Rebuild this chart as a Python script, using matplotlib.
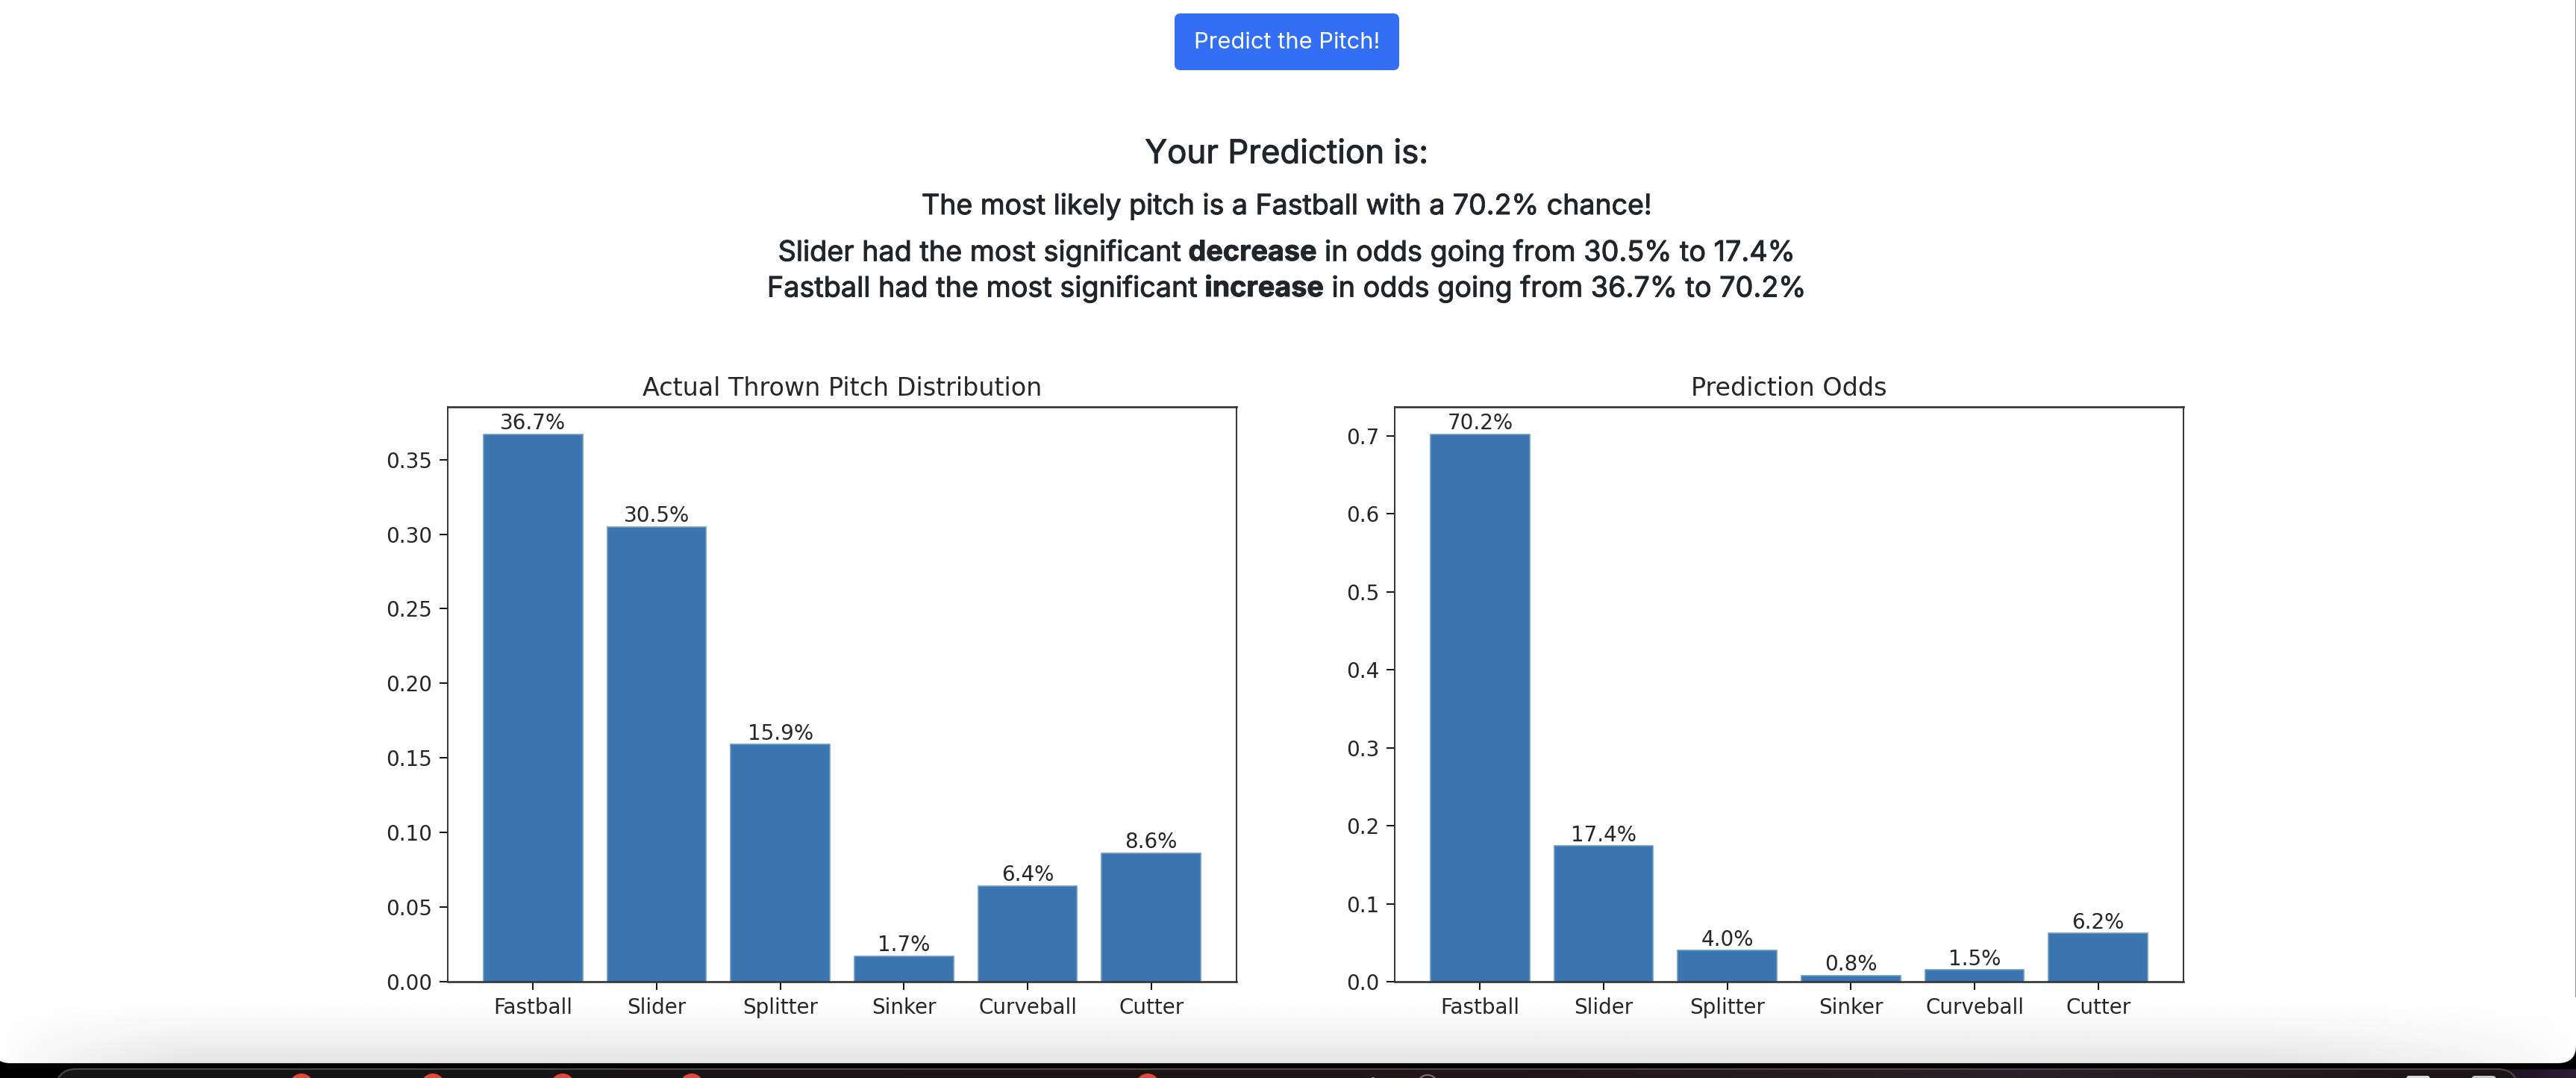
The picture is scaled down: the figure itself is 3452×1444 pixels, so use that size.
import numpy as np
import matplotlib
matplotlib.use("Agg")
import matplotlib.pyplot as plt
import matplotlib.patheffects as pe
from matplotlib.colors import LinearSegmentedColormap
from matplotlib.patches import FancyBboxPatch, Circle

W, H = 3452, 1444

pitches = ["Fastball", "Slider", "Splitter", "Sinker", "Curveball", "Cutter"]
actual = [0.367, 0.305, 0.159, 0.017, 0.064, 0.086]
odds = [0.702, 0.174, 0.040, 0.008, 0.015, 0.062]

button_label = "Predict the Pitch!"
heading = "Your Prediction is:"
summary = "The most likely pitch is a Fastball with a 70.2% chance!"
decrease_line = ["Slider had the most significant ", "decrease", " in odds going from 30.5% to 17.4%"]
increase_line = ["Fastball had the most significant ", "increase", " in odds going from 36.7% to 70.2%"]

bar_color = "#3b75af"
bar_edge = "#6d99c7"
text_color = "#212529"
chart_text = "#262626"

fig = plt.figure(figsize=(W / 100, H / 100), dpi=100, facecolor="black")

# page background in pixel coordinates
bg = fig.add_axes([0, 0, 1, 1])
bg.axis("off")

# wallpaper goes purple towards the right hand corner
wall = LinearSegmentedColormap.from_list("wall", ["#000000", "#000000", "#150a16", "#2e1b35"])
bg.imshow(np.linspace(0, 1, 256).reshape(1, -1), extent=(3000, W, 1444, 1424), cmap=wall,
          aspect="auto", zorder=0)
bg.fill_between([0, W], 1424, 1431, color="black", zorder=0.5)

# dock at the bottom
dock = FancyBboxPatch((74, 1432), 3300, 60, boxstyle="round,pad=0,rounding_size=28",
                      fc="none", ec="#4a4545", lw=1.6, zorder=2)
bg.add_patch(dock)
dock_cmap = LinearSegmentedColormap.from_list("dock", ["#161616", "#171515", "#1e1415", "#221618", "#2a2028", "#1a1516"])
im = bg.imshow(np.linspace(0, 1, 256).reshape(1, -1), extent=(74, 3374, 1444, 1432), cmap=dock_cmap,
               aspect="auto", zorder=1)
im.set_clip_path(dock)
for x in [404, 580, 754, 927, 1538]:
    bg.add_patch(Circle((x, 1454), 16, fc="#e0483a", ec="none", zorder=3))
# bits of the other dock icons that stick out
bg.add_patch(FancyBboxPatch((3225, 1441), 31, 12, boxstyle="round,pad=0,rounding_size=3",
                            fc="#dcdcdc", ec="none", zorder=3))
bg.add_patch(FancyBboxPatch((3312, 1441), 33, 12, boxstyle="round,pad=0,rounding_size=5",
                            fc="#c8c8c8", ec="none", zorder=3))
bg.add_patch(Circle((1913, 1454), 14, fc="#1e1415", ec="#77757a", lw=1.5, zorder=3))
bg.add_patch(Circle((1840, 1446), 3, fc="#a8c8e0", ec="none", zorder=3))

# browser window with the grey shadow at its bottom, fading out at the corners
window = FancyBboxPatch((-10, -40), W + 10, 1464, boxstyle="round,pad=0,rounding_size=24",
                        fc="white", ec="#4a4a4a", lw=0.8, zorder=4)
bg.add_patch(window)
xs = np.linspace(0, W, 600)
ys = np.linspace(0, 1, 100)
fade_x = np.clip(np.minimum(xs / 260, (W - xs) / 420), 0, 1) ** 0.7
shade = 1 - 0.105 * np.outer(ys ** 1.3, fade_x)
im = bg.imshow(shade, extent=(0, W, 1424, 1336), cmap="gray", vmin=0, vmax=1,
               aspect="auto", interpolation="bilinear", zorder=5)
im.set_clip_path(window)
bg.set_xlim(0, W)
bg.set_ylim(H, 0)

# button
bg.add_patch(FancyBboxPatch((1574, 18), 301, 76, boxstyle="round,pad=0,rounding_size=8",
                            fc="#326ff5", ec="none", zorder=6))
bg.text(1725, 57, button_label, color="white", fontsize=22.2, family="Inter",
        ha="center", va="center", zorder=7)

# headline text, slightly thickened since Inter regular is lighter than the original
thick = [pe.withStroke(linewidth=0.7, foreground=text_color)]
bg.text(1724, 207, heading, color=text_color, fontsize=31.6, family="Inter",
        ha="center", va="center", zorder=7, path_effects=thick)
bg.text(1724, 277, summary, color=text_color, fontsize=27, family="Inter",
        ha="center", va="center", zorder=7, path_effects=thick)


def mixed_line(parts, y, size=27.2):
    # middle part is bold, so lay the three pieces out by measured width
    renderer = fig.canvas.get_renderer()
    pieces = []
    for i, part in enumerate(parts):
        t = bg.text(0, y, part.replace(" ", "\u00a0"), color=text_color, fontsize=size, family="Inter",
                    fontweight="bold" if i == 1 else "normal",
                    ha="left", va="center_baseline", zorder=7, path_effects=thick)
        pieces.append(t)
    widths = [t.get_window_extent(renderer).width for t in pieces]
    x = 1724 - sum(widths) / 2
    for t, w in zip(pieces, widths):
        t.set_x(x)
        x += w


mixed_line(decrease_line, 335)
mixed_line(increase_line, 383)


def bar_panel(rect, values, title):
    ax = fig.add_axes([rect[0] / W, 1 - rect[3] / H, (rect[2] - rect[0]) / W, (rect[3] - rect[1]) / H])
    bars = ax.bar(pitches, values, color=bar_color, width=0.8, edgecolor=bar_edge, linewidth=1.2)
    ax.bar_label(bars, labels=[f"{v * 100:.1f}%" for v in values], fontsize=20, padding=0.5, color=chart_text)
    ax.set_title(title, fontsize=24, pad=11, color=chart_text)
    ax.tick_params(labelsize=20, length=8, width=1.3, pad=7, labelcolor=chart_text)
    for side, s in ax.spines.items():
        s.set_linewidth(1.9 if side in ("top", "bottom") else 1.4)
        s.set_edgecolor("#333333")
    ax.patch.set_alpha(0)
    return ax


bar_panel((600, 545, 1657, 1315), actual, "Actual Thrown Pitch Distribution")
bar_panel((1869, 545, 2926, 1315), odds, "Prediction Odds")

fig.savefig("out.png", dpi=100, facecolor=fig.get_facecolor())
